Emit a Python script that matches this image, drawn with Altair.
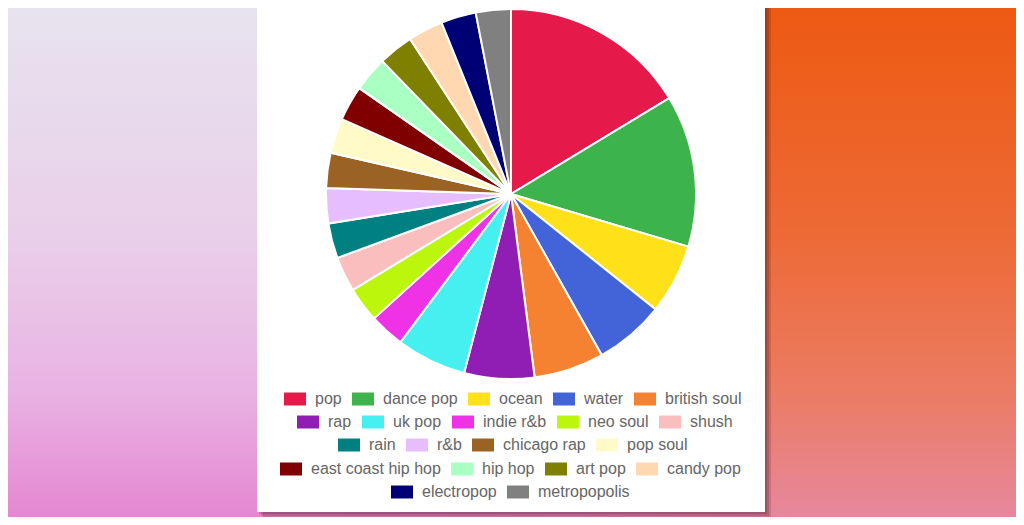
import altair as alt
import pandas as pd

genres = ["pop", "dance pop", "ocean", "water", "british soul",
          "rap", "uk pop", "indie r&b", "neo soul", "shush",
          "rain", "r&b", "chicago rap", "pop soul",
          "east coast hip hop", "hip hop", "art pop", "candy pop",
          "electropop", "metropopolis"]
counts = [16, 13, 6, 6, 6, 6, 6, 3, 3, 3, 3, 3, 3, 3, 3, 3, 3, 3, 3, 3]
colors = ["#e6194b", "#3cb44b", "#ffe119", "#4363d8", "#f58231",
          "#911eb4", "#46f0f0", "#f032e6", "#bcf60c", "#fabebe",
          "#008080", "#e6beff", "#9a6324", "#fffac8",
          "#800000", "#aaffc3", "#808000", "#ffd8b1",
          "#000075", "#808080"]
legend_row = [0] * 5 + [1] * 5 + [2] * 4 + [3] * 4 + [4] * 2

W, H = 1008, 509
total = sum(counts)

df = pd.DataFrame({"genre": genres, "count": counts, "order": list(range(len(genres))),
                   "row": legend_row})
bg = pd.DataFrame({"k": [0]})

def grad(stops, vertical):
    return alt.LinearGradient(
        gradient="linear",
        stops=[alt.GradientStop(offset=o, color=c) for o, c in stops],
        x1=0, y1=0, x2=0 if vertical else 1, y2=1 if vertical else 0)

layers = []
# bottom/middle base
layers.append(alt.Chart(bg).mark_rect(fill=grad([(0, "#e58ad2"), (0.5, "#e28cc0"), (1, "#e88a9a")], False)).encode(
    x=alt.value(0), x2=alt.value(W), y=alt.value(0), y2=alt.value(H)))
# left side
layers.append(alt.Chart(bg).mark_rect(fill=grad([(0, "#e7e3ef"), (0.45, "#e9cfe9"), (0.75, "#e9b3e3"), (1, "#e487d2")], True)).encode(
    x=alt.value(0), x2=alt.value(250), y=alt.value(0), y2=alt.value(H)))
# right side
layers.append(alt.Chart(bg).mark_rect(fill=grad([(0, "#ed5a12"), (0.45, "#ed6a36"), (0.75, "#eb7b62"), (1, "#e6889d")], True)).encode(
    x=alt.value(756), x2=alt.value(W), y=alt.value(0), y2=alt.value(H)))
# shadow
for o in (2, 4, 6):
    layers.append(alt.Chart(bg).mark_rect(fill="#2a0a1a", opacity=0.16).encode(
        x=alt.value(249 + o), x2=alt.value(757 + o), y=alt.value(0), y2=alt.value(504 + o)))
# card
layers.append(alt.Chart(bg).mark_rect(fill="#ffffff").encode(
    x=alt.value(249), x2=alt.value(757), y=alt.value(0), y2=alt.value(504)))

legend_x = [276, 289, 330, 272, 383]
legend_y = [380, 403, 426, 450, 473]
box = "M-1,-0.59H1V0.59H-1Z"

for r in range(5):
    row_genres = [g for g, lr in zip(genres, legend_row) if lr == r]
    row_colors = [c for c, lr in zip(colors, legend_row) if lr == r]
    layer = alt.Chart(df).transform_window(
        cum="sum(count)", sort=[alt.SortField("order")], frame=[None, 0]
    ).transform_calculate(
        start="datum.cum - datum.count"
    ).transform_filter(
        alt.datum.row == r
    ).mark_arc(radius=185, stroke="#ffffff", strokeWidth=2).encode(
        x=alt.value(503), y=alt.value(186),
        theta=alt.Theta("start:Q", stack=False, scale=alt.Scale(domain=[0, total])),
        theta2=alt.Theta2("cum:Q"),
        color=alt.Color("genre:N",
                        scale=alt.Scale(domain=row_genres, range=row_colors),
                        sort=row_genres,
                        legend=alt.Legend(orient="none", legendX=legend_x[r], legendY=legend_y[r],
                                          direction="horizontal", title=None,
                                          symbolType=box, symbolSize=484,
                                          symbolStrokeWidth=0, symbolOpacity=1,
                                          labelFont="Liberation Sans", labelFontSize=16,
                                          labelColor="#666666", labelOffset=9,
                                          columnPadding=10, padding=0, labelLimit=300)),
    )
    layers.append(layer)

chart = alt.layer(*layers).resolve_scale(color="independent").properties(
    width=W, height=H, padding=0,
    autosize=alt.AutoSizeParams(type="none")
).configure_view(stroke=None)

chart.save("out.html", embed_options={"renderer": "svg", "actions": False})
